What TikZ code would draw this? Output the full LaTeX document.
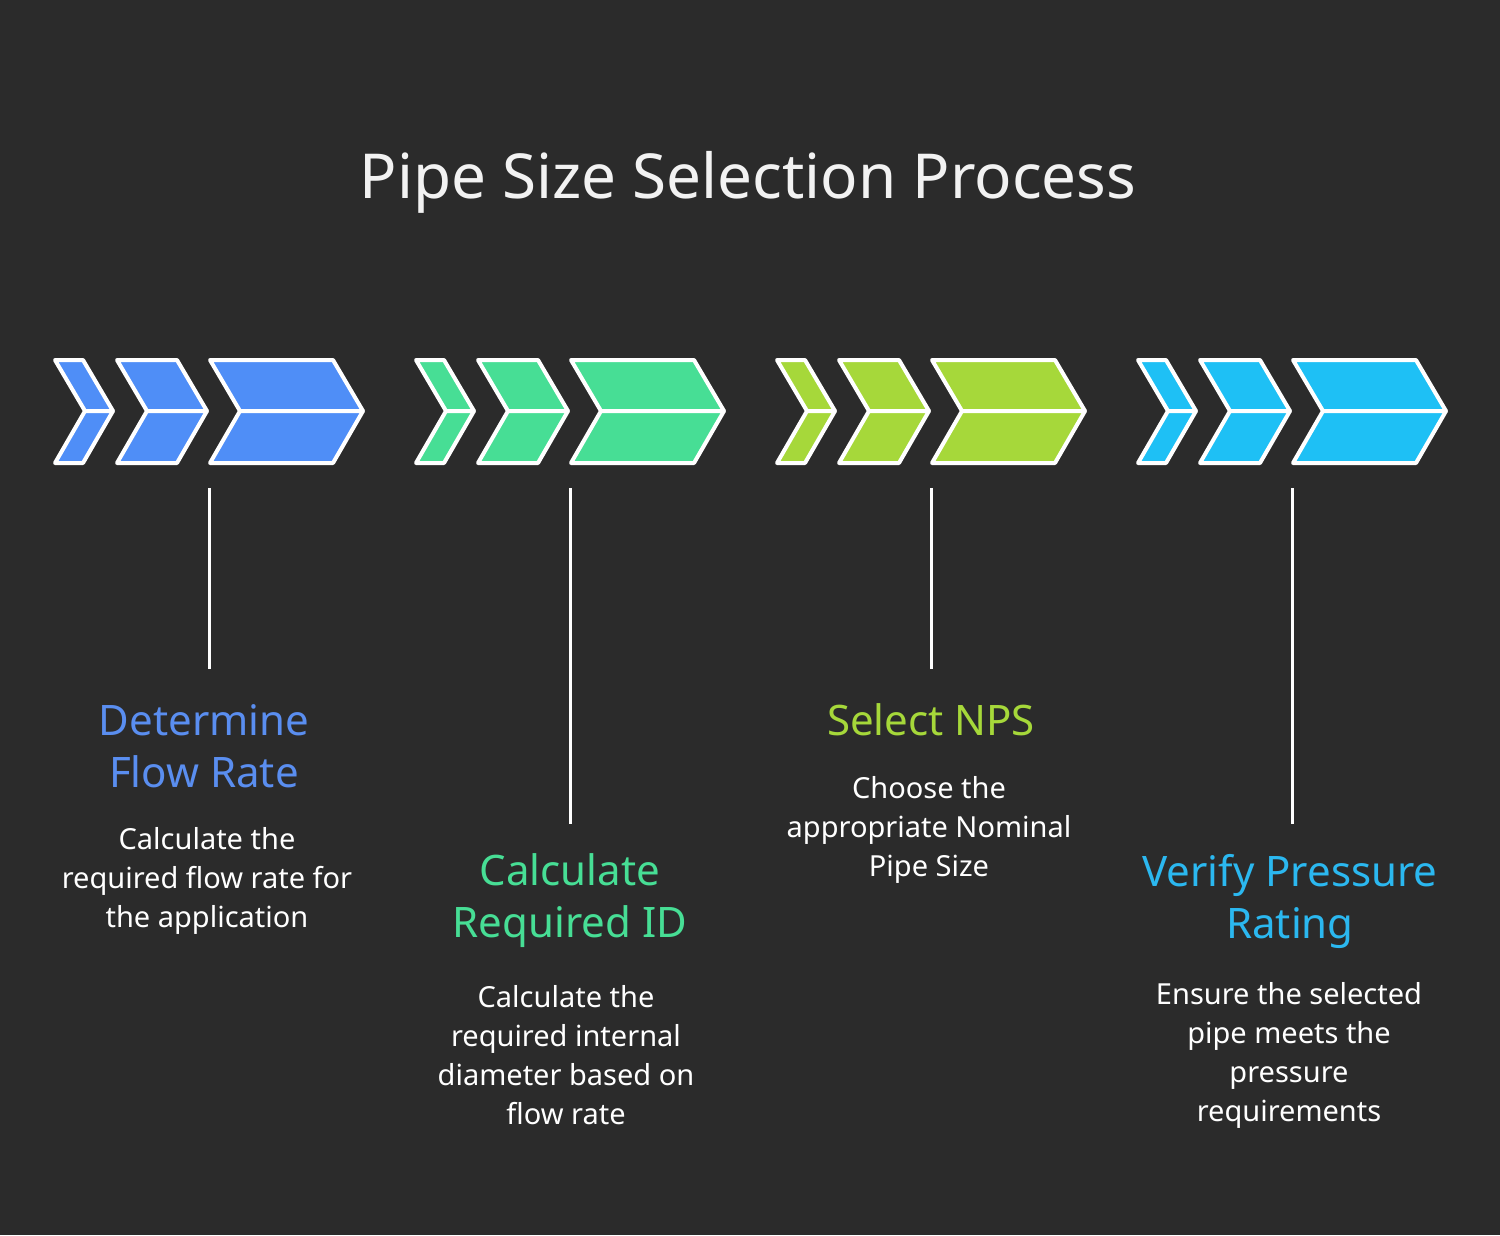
\documentclass[tikz,border=0pt]{standalone}
\usepackage{fontspec}
\setmainfont{Noto Sans}
\definecolor{bg}{HTML}{2B2B2B}
\definecolor{cblue}{HTML}{4F8EF7}
\definecolor{cgreen}{HTML}{47DE95}
\definecolor{clime}{HTML}{A6D83A}
\definecolor{ccyan}{HTML}{1EC0F5}
\definecolor{tblue}{HTML}{5A8EF0}
\definecolor{tgreen}{HTML}{47DE95}
\definecolor{tlime}{HTML}{A6D83A}
\definecolor{tcyan}{HTML}{2BB8F0}
\newcommand{\halfchev}[3]{% L R color
  \draw[chevline,fill=#3] (#1,360)--(#2,360)--(#2+30,411)--(#1+30,411)--cycle;
  \draw[chevline,fill=#3] (#1+30,411)--(#2+30,411)--(#2,463)--(#1,463)--cycle;}
\newcommand{\chevgroup}[2]{%
  \halfchev{#1+55}{#1+83}{#2}
  \halfchev{#1+117}{#1+177}{#2}
  \halfchev{#1+210}{#1+333}{#2}}
\begin{document}
\begin{tikzpicture}[x=1pt,y=-1pt,
  chevline/.style={draw=white,line width=4pt,line join=round},
  stem/.style={draw=white,line width=3pt},
  head/.style={font=\fontsize{42}{52}\selectfont\bfseries,align=center},
  body/.style={font=\fontsize{29}{39}\selectfont,text=white,align=center}]
\fill[bg] (0,0) rectangle (1500,1235);
\useasboundingbox (0,0) rectangle (1500,1235);
\node[font=\fontsize{62}{70}\selectfont\bfseries,text=white!95!black] (title) at (748,182) {Pipe Size Selection Process};
\chevgroup{0}{cblue}
\chevgroup{361}{cgreen}
\chevgroup{722}{clime}
\chevgroup{1083}{ccyan}
\coordinate (s1) at (209,488); \coordinate (e1) at (209,669);
\coordinate (s2) at (570,488); \coordinate (e2) at (570,824);
\coordinate (s3) at (931,488); \coordinate (e3) at (931,669);
\coordinate (s4) at (1292,488); \coordinate (e4) at (1292,824);
\draw[stem] (s1)--(e1); \draw[stem] (s2)--(e2);
\draw[stem] (s3)--(e3); \draw[stem] (s4)--(e4);
\node[head,text=tblue] (h1) at (204,746) {Determine\\Flow Rate};
\node[body] (b1) at (207,881) {Calculate the\\required flow rate for\\the application};
\node[head,text=tgreen] (h2) at (570,901) {Calculate\\Required ID};
\node[body] (b2) at (566,1055) {Calculate the\\required internal\\diameter based on\\flow rate};
\node[head,text=tlime] (h3) at (931,720) {Select NPS};
\node[body] (b3) at (929,830) {Choose the\\appropriate Nominal\\Pipe Size};
\node[head,text=tcyan] (h4) at (1290,901) {Verify Pressure\\Rating};
\node[body] (b4) at (1289,1055) {Ensure the selected\\pipe meets the\\pressure\\requirements};
\end{tikzpicture}
\end{document}
